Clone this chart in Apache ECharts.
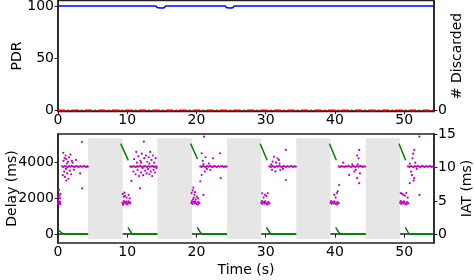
<!DOCTYPE html>
<html>
<head>
<meta charset="utf-8">
<script src="https://cdn.jsdelivr.net/npm/echarts@6.0.0/dist/echarts.min.js"></script>
<style>
  html, body { margin: 0; padding: 0; background: #fff; }
  #main { width: 474px; height: 280px; }
</style>
</head>
<body>
<div id="main"></div>
<script>
// tick labels
var xTicks = [0, 10, 20, 30, 40, 50];
var pdrTicks = [0, 50, 100];
var delayTicks = [0, 2000, 4000];
var iatTicks = [0, 5, 10, 15];

// top panel: PDR (%) and # discarded
var pdrTime  = [0, 14.1, 14.4, 14.9, 15.3, 15.6, 24.1, 24.4, 24.9, 25.2, 25.5, 54.3];
var pdrValue = [100, 100, 98.3, 98.2, 98.4, 100, 100, 98.3, 98.2, 98.4, 100, 100];
var discardTime  = [0, 10, 20, 30, 40, 50, 54.3];
var discardValue = [0, 0, 0, 0, 0, 0, 0];

// bottom panel: grey "off" intervals (s)
var offStart = [4.35, 14.35, 24.4, 34.4, 44.45];
var offEnd   = [9.35, 19.35, 29.35, 39.35, 49.4];

// IAT (ms), null = gap in the line
var iatTime  = [0.05, 0.3, 0.75, 1.0, 4.35, null,
                9.05, 10.15, null, 10.1, 10.7, 11.0, 14.35, null,
                19.15, 20.15, null, 20.1, 20.7, 21.0, 24.4, null,
                29.2, 30.2, null, 30.1, 30.7, 31.0, 34.4, null,
                39.2, 40.2, null, 40.1, 40.7, 41.0, 44.45, null,
                49.25, 50.2, null, 50.15, 50.7, 51.0, 54.3];
var iatValue = [0.65, 0.55, 0.05, 0, 0, null,
                13.6, 11.1, null, 1.05, 0.05, 0, 0, null,
                13.6, 11.3, null, 1.05, 0.05, 0, 0, null,
                13.6, 11.1, null, 1.05, 0.05, 0, 0, null,
                13.6, 11.1, null, 1.05, 0.05, 0, 0, null,
                13.6, 11.1, null, 1.05, 0.05, 0, 0];

// delay samples [time s, delay ms], one list per on-period
var delay0 = [[0.02,1760],[0.1,1700],[0.15,1820],[0.2,1740],[0.3,1780],[0.35,1690],[0.05,1850],[0.25,1800],
  [0.1,2050],[0.2,2150],[0.3,2000],[0.15,2480],[0.35,2250],
  [0.6,3790],[0.8,3760],[1.0,3810],[1.2,3780],[1.4,3750],[1.6,3800],[1.8,3770],[2.0,3820],[2.2,3780],[2.4,3760],
  [2.6,3800],[2.8,3790],[3.0,3750],[3.2,3810],[3.4,3770],[3.6,3790],[3.8,3800],[4.0,3760],[4.2,3790],[4.3,3780],
  [0.7,3300],[0.8,4100],[0.9,3500],[0.95,4250],[1.0,3200],[1.1,4400],[1.15,3650],[1.2,4200],[1.3,3950],[1.35,3400],
  [1.45,4050],[1.5,3100],[1.6,4300],[1.7,3550],[1.8,4450],[1.9,3350],[2.1,4000],[2.3,3600],[2.6,4150],[3.2,3400],
  [3.45,5150],[3.5,2560],[1.2,3000],[0.75,4550],[2.0,4100]];
var delay1 = [[9.3,1760],[9.45,1700],[9.6,1800],[9.75,1720],[9.9,1780],[10.05,1690],[10.2,1760],[10.35,1800],[10.45,1730],
  [9.5,1850],[9.85,1830],[10.15,1840],[9.4,1650],[10.0,1660],
  [9.35,2250],[9.5,2100],[9.7,2150],[9.9,2050],[10.2,2200],[10.35,2000],[9.6,2320],
  [10.45,3790],[10.65,3760],[10.85,3810],[11.05,3780],[11.25,3750],[11.45,3800],[11.65,3770],[11.85,3820],[12.05,3780],
  [12.25,3760],[12.45,3800],[12.65,3790],[12.85,3750],[13.05,3810],[13.25,3770],[13.45,3790],[13.65,3800],[13.85,3760],
  [14.05,3790],[14.25,3780],
  [10.6,2980],[10.9,3500],[11.0,4200],[11.2,3350],[11.4,4000],[11.5,3600],[11.6,4350],[11.7,3250],[11.85,2570],[11.9,4100],
  [12.0,3450],[12.1,4500],[12.2,3700],[12.3,3300],[12.4,5170],[12.45,4250],[12.6,3550],[12.7,4400],[12.8,3400],[12.9,4050],
  [13.0,3650],[13.1,4300],[13.2,3350],[13.3,4600],[13.4,3500],[13.5,4150],[13.6,3250],[13.7,4400],[13.8,3600],[13.9,4000],
  [14.0,3450],[14.1,4250],[14.2,3700],[11.3,4600],[12.0,4000],[13.2,3950]];
var delay2 = [[19.25,1760],[19.4,1700],[19.55,1800],[19.7,1720],[19.85,1780],[20.0,1690],[20.15,1760],[20.3,1800],[20.45,1730],
  [19.35,1850],[19.8,1840],[20.2,1660],
  [19.3,2300],[19.45,2450],[19.55,2600],[19.6,2050],[19.7,2200],[19.8,2350],[19.9,1950],[20.05,2100],[20.25,2000],[21.0,2195],[19.5,1950],
  [20.55,3790],[20.75,3760],[20.95,3810],[21.15,3780],[21.35,3750],[21.55,3800],[21.75,3770],[21.95,3820],[22.15,3780],
  [22.35,3760],[22.55,3800],[22.75,3790],[22.95,3750],[23.15,3810],[23.35,3770],[23.55,3790],[23.75,3800],[23.95,3760],
  [24.15,3790],[24.35,3780],
  [21.1,5450],[20.75,4525],[21.0,3920],[20.75,3310],[20.55,2960],[20.9,4100],[21.2,3500],[21.3,4300],[21.5,3650],
  [22.4,4245],[23.4,4525],[23.5,3130],[22.0,3600],[21.8,3950]];
var delay3 = [[29.35,1760],[29.5,1700],[29.65,1800],[29.8,1720],[29.95,1780],[30.1,1690],[30.25,1760],[30.4,1800],[30.55,1730],
  [29.45,1850],[29.9,1840],[30.3,1660],
  [29.5,2290],[29.9,2200],[30.1,2130],[30.3,2290],[29.7,2050],
  [30.55,3790],[30.75,3760],[30.95,3810],[31.15,3780],[31.35,3750],[31.55,3800],[31.75,3770],[31.95,3820],[32.15,3780],
  [32.35,3760],[32.55,3800],[32.75,3790],[32.95,3750],[33.15,3810],[33.35,3770],[33.55,3790],[33.75,3800],[33.95,3760],
  [34.15,3790],[34.35,3780],
  [31.0,4060],[31.2,4330],[31.4,3500],[31.7,4245],[32.1,3590],[32.9,4710],[32.9,3030],[30.8,3900],[31.5,4000],
  [32.0,3950],[31.9,4150],[30.9,3600],[32.5,3650]];
var delay4 = [[39.35,1760],[39.5,1700],[39.65,1800],[39.8,1720],[39.95,1780],[40.1,1690],[40.25,1760],[40.4,1800],[40.55,1730],
  [39.45,1850],[39.9,1840],[40.3,1660],
  [39.9,2200],[40.4,2400],[40.6,2750],[40.3,2300],[40.1,2050],
  [40.55,3790],[40.75,3760],[40.95,3810],[41.15,3780],[41.35,3750],[41.55,3800],[41.75,3770],[41.95,3820],[42.15,3780],
  [42.35,3760],[42.55,3800],[42.75,3790],[42.95,3750],[43.15,3810],[43.35,3770],[43.55,3790],[43.75,3800],[43.95,3760],
  [44.15,3790],[44.35,3780],
  [43.5,4710],[43.4,4245],[43.2,4400],[43.3,3900],[42.8,3500],[43.2,3130],[43.5,2850],[42.05,3313],[43.0,3600],
  [43.6,3400],[41.2,4000],[42.5,3900]];
var delay5 = [[49.4,1760],[49.55,1700],[49.7,1800],[49.85,1720],[50.0,1780],[50.15,1690],[50.3,1760],[50.45,1800],[50.6,1730],
  [49.5,1850],[49.95,1840],[50.35,1660],
  [49.5,2300],[49.7,2250],[49.9,2200],[50.1,2150],[50.3,2300],[50.5,2050],[50.8,2850],
  [50.55,3790],[50.75,3760],[50.95,3810],[51.15,3780],[51.35,3750],[51.55,3800],[51.75,3770],[51.95,3820],[52.15,3780],
  [52.35,3760],[52.55,3800],[52.75,3790],[52.95,3750],[53.15,3810],[53.35,3770],[53.55,3790],[53.75,3800],[53.95,3760],
  [54.15,3790],[54.3,3780],
  [52.2,5450],[51.45,4710],[51.2,4245],[51.0,3500],[51.45,3130],[52.2,2195],[51.3,4500],[51.6,4000],[51.1,3300],
  [51.8,3650],[50.8,3950],[51.35,3000]];

var font = 'DejaVu Sans';
var ink = '#222';

function pairs(xs, ys) {
    var out = [];
    for (var i = 0; i < xs.length; i++) {
        out.push(ys[i] === null ? ['-', '-'] : [xs[i], ys[i]]);
    }
    return out;
}

function plain(v) { return String(v); }

var greyAreas = [];
for (var i = 0; i < offStart.length; i++) {
    greyAreas.push([{ xAxis: offStart[i], yAxis: -260 }, { xAxis: offEnd[i], yAxis: 5360 }]);
}

function xAxisCfg(gridIndex, withName) {
    return {
        type: 'value', gridIndex: gridIndex, min: 0, max: 54.3,
        name: withName ? 'Time (s)' : '', nameLocation: 'middle', nameGap: 20, nameMoveOverlap: false,
        nameTextStyle: { fontFamily: font, fontSize: 14, color: '#000' },
        axisLine: { show: true, lineStyle: { color: ink, width: 1.5 } },
        axisTick: { show: true, inside: false, length: 3.5, customValues: xTicks, lineStyle: { color: ink } },
        axisLabel: { customValues: xTicks, formatter: plain, margin: 2, fontFamily: font, fontSize: 14, color: '#000' },
        splitLine: { show: false }
    };
}

function yAxisCfg(gridIndex, pos, name, min, max, ticks, gap) {
    return {
        type: 'value', gridIndex: gridIndex, position: pos, min: min, max: max,
        name: name, nameLocation: 'middle', nameRotate: 90, nameGap: gap, nameMoveOverlap: false,
        nameTextStyle: { fontFamily: font, fontSize: 14, color: '#000' },
        axisLine: { show: true, lineStyle: { color: ink, width: 1.5 } },
        axisTick: { show: true, inside: false, length: 3.5, customValues: ticks, lineStyle: { color: ink } },
        axisLabel: { customValues: ticks, formatter: plain, margin: 4, fontFamily: font, fontSize: 14, color: '#000' },
        splitLine: { show: false }
    };
}

var myChart = echarts.init(document.getElementById('main'), null, { renderer: 'canvas' });

var option = {
    animation: false,
    backgroundColor: '#fff',
    grid: [
        { left: 58, top: 0.5, width: 376, height: 111, outerBoundsMode: 'none', containLabel: false,
          show: true, borderColor: ink, borderWidth: 1.5, backgroundColor: 'transparent' },
        { left: 58, top: 134, width: 376, height: 109, outerBoundsMode: 'none', containLabel: false,
          show: true, borderColor: ink, borderWidth: 1.5, backgroundColor: 'transparent' }
    ],
    xAxis: [xAxisCfg(0, false), xAxisCfg(1, true)],
    yAxis: [
        yAxisCfg(0, 'left', 'PDR', -0.8, 105.3, pdrTicks, 34),
        yAxisCfg(0, 'right', '# Discarded', -0.01, 1, [0], 16),
        yAxisCfg(1, 'left', 'Delay (ms)', -490, 5600, delayTicks, 39),
        yAxisCfg(1, 'right', 'IAT (ms)', -1.3, 15.05, iatTicks, 26)
    ],
    series: [
        {
            name: 'PDR', type: 'line', xAxisIndex: 0, yAxisIndex: 0, smooth: 0.3,
            showSymbol: false, data: pairs(pdrTime, pdrValue),
            lineStyle: { color: '#0000ff', width: 1.5 }, z: 3
        },
        {
            name: '# Discarded', type: 'line', xAxisIndex: 0, yAxisIndex: 1,
            showSymbol: false, data: pairs(discardTime, discardValue),
            lineStyle: { color: '#e00000', width: 1.8, type: [7, 2.5, 1.5, 2.5] }, z: 4
        },
        {
            name: 'off', type: 'line', xAxisIndex: 1, yAxisIndex: 2, data: [], z: 1,
            markArea: { silent: true, itemStyle: { color: '#e6e6e6', opacity: 1 }, data: greyAreas }
        },
        {
            name: 'Delay', type: 'scatter', xAxisIndex: 1, yAxisIndex: 2, symbolSize: 2.2,
            data: [].concat(delay0, delay1, delay2, delay3, delay4, delay5),
            itemStyle: { color: '#bf00bf', opacity: 1 }, z: 3
        },
        {
            name: 'IAT', type: 'line', xAxisIndex: 1, yAxisIndex: 3, connectNulls: false,
            showSymbol: false, data: pairs(iatTime, iatValue),
            lineStyle: { color: '#008000', width: 1.5 }, z: 4
        }
    ]
};

myChart.setOption(option);
window.onresize = myChart.resize;
</script>
</body>
</html>
